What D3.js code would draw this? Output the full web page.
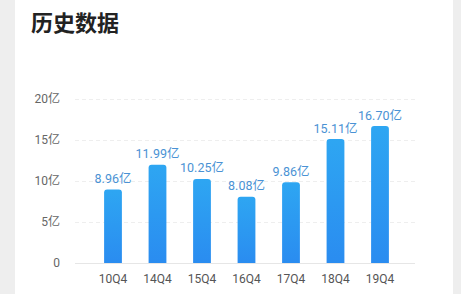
<!DOCTYPE html>
<html><head><meta charset="utf-8">
<script src="https://cdn.jsdelivr.net/npm/d3@7"></script>
<style>
html,body{margin:0;padding:0;background:#eeeeee;}
svg{display:block;}
</style></head>
<body>
<svg id="c" width="461" height="294"></svg>
<script>
const categories = ["10Q4","14Q4","15Q4","16Q4","17Q4","18Q4","19Q4"];
const values = [8.96, 11.99, 10.25, 8.08, 9.86, 15.11, 16.70];
const yTicks = [0, 5, 10, 15, 20];
const title = "历史数据";
const unit = "亿";

const svg = d3.select("#c");
const W = 461, H = 294;
svg.append("rect").attr("x",15).attr("y",0).attr("width",438).attr("height",H).attr("fill","#ffffff");

svg.append("text").attr("x",31).attr("y",31)
  .attr("font-family","'Noto Sans CJK SC', sans-serif").attr("font-weight","bold")
  .attr("font-size",22).attr("fill","#222").text(title);

const y = d3.scaleLinear().domain([0,20]).range([263,99]);
const x = d3.scaleBand().domain(categories).range([90.75,402.25]).paddingInner(0.6).paddingOuter(0.3);
const gridX0 = 75, gridX1 = 415;

const defs = svg.append("defs");
const grad = defs.append("linearGradient").attr("id","g").attr("x1",0).attr("y1",0).attr("x2",0).attr("y2",1);
grad.append("stop").attr("offset","0%").attr("stop-color","#2ea6f2");
grad.append("stop").attr("offset","100%").attr("stop-color","#2a8cf0");

// grid
svg.append("g").selectAll("line").data(yTicks).join("line")
  .attr("x1",gridX0).attr("x2",gridX1)
  .attr("y1",d=>Math.round(y(d))+0.5).attr("y2",d=>Math.round(y(d))+0.5)
  .attr("stroke",d=>d===0?"#e6e6e6":"#eeeeee").attr("stroke-width",1)
  .attr("stroke-dasharray",d=>d===0?null:"4,3");

// y labels
const yAxis = d3.axisLeft(y).tickValues(yTicks).tickSize(0).tickPadding(0)
  .tickFormat(d=>d===0?"0":d+unit);
const ga = svg.append("g").attr("transform","translate(60,0)").call(yAxis);
ga.select(".domain").remove();
ga.selectAll("text").attr("font-family","Roboto, 'Noto Sans CJK SC', sans-serif").attr("font-size",12).attr("fill","#666");

// x labels
const xAxis = d3.axisBottom(x).tickSize(0).tickPadding(0);
const gx = svg.append("g").attr("transform","translate(0,274.5)").call(xAxis);
gx.select(".domain").remove();
gx.selectAll("text").attr("font-family","Roboto, 'Noto Sans', sans-serif").attr("font-size",12).attr("fill","#555");

// bars with rounded top
const r = 3;
svg.append("g").selectAll("path").data(values).join("path")
  .attr("fill","url(#g)")
  .attr("d",(d,i)=>{
    const x0 = x(categories[i]), w = x.bandwidth(), t = y(d), b = y(0);
    return `M${x0},${b}V${t+r}Q${x0},${t} ${x0+r},${t}H${x0+w-r}Q${x0+w},${t} ${x0+w},${t+r}V${b}Z`;
  });

// value labels
svg.append("g").selectAll("text").data(values).join("text")
  .attr("x",(d,i)=>x(categories[i])+x.bandwidth()/2)
  .attr("y",d=>y(d)-6.5)
  .attr("text-anchor","middle")
  .attr("font-family","Roboto, 'Noto Sans CJK SC', sans-serif").attr("font-size",12.5)
  .attr("fill","#4a92d4")
  .text(d=>d.toFixed(2)+unit);
</script>
</body></html>
